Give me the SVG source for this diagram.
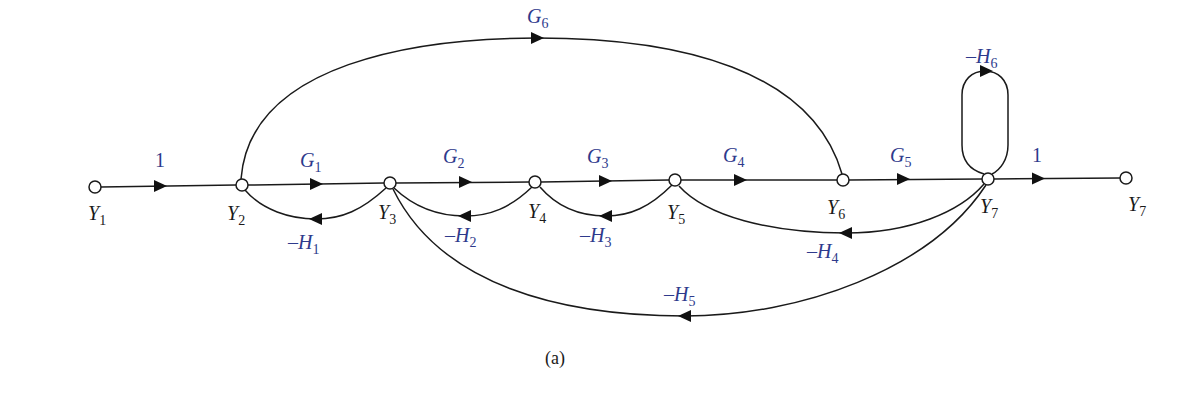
<svg xmlns="http://www.w3.org/2000/svg" xmlns:xlink="http://www.w3.org/1999/xlink" width="1195" height="400" viewBox="0 0 1195 400">
<style>
.e{fill:none;stroke:#1a1a1a;stroke-width:1.5}
.n{fill:#fff;stroke:#1a1a1a;stroke-width:1.5}
.a{fill:#111}
.g{font-family:"Liberation Serif",serif;font-style:italic;font-size:20px;fill:#2e3a8c}
.y{font-family:"Liberation Serif",serif;font-style:italic;font-size:20px;fill:#1a1a1a}
.s{font-style:normal;font-size:14px}
.c{font-family:"Liberation Serif",serif;font-size:18px;fill:#1a1a1a}
</style>
<defs>
<path id="ah" d="M-6,-6 L7,0 L-6,6 Z"/>
</defs>
<rect width="1195" height="400" fill="#fff"/>
<g id="connectors">
<path class="e" d="M101,187 L236,185"/>
<path class="e" d="M248,185 L384,183"/>
<path class="e" d="M396,183 L529,182"/>
<path class="e" d="M541,182 L669,180"/>
<path class="e" d="M681,180 L837,180"/>
<path class="e" d="M849,180 L982,179"/>
<path class="e" d="M994,179 L1120,178"/>
<path class="e" d="M241,179 C250,62 420,38 537,38 C680,38 812,70 842,174"/>
<path class="e" d="M386,188 C362,210 342,219 316,219 C290,219 262,210 245,190"/>
<path class="e" d="M532,187 C510,208 490,216 465,216 C440,216 415,208 394,188"/>
<path class="e" d="M672,185 C650,207 630,216 606,216 C580,216 558,208 540,187"/>
<path class="e" d="M984,184 C960,212 910,233 846,233 C770,233 706,216 679,186"/>
<path class="e" d="M986,185 C930,270 800,316 685,316 C560,316 440,285 393,189"/>
<path class="e" d="M984,174 C970,170 962,160 962,145 L962,95 C962,80 972,71 985,71 C998,71 1008,80 1008,95 L1008,145 C1008,160 1000,170 992,174"/>
<g class="a">
<use href="#ah" transform="translate(160,186)"/>
<use href="#ah" transform="translate(316,184)"/>
<use href="#ah" transform="translate(465,182)"/>
<use href="#ah" transform="translate(605,181)"/>
<use href="#ah" transform="translate(740,180)"/>
<use href="#ah" transform="translate(903,179)"/>
<use href="#ah" transform="translate(1038,178.5)"/>
<use href="#ah" transform="translate(537,38)"/>
<use href="#ah" transform="translate(316,219) rotate(180)"/>
<use href="#ah" transform="translate(465,216) rotate(180)"/>
<use href="#ah" transform="translate(606,216) rotate(180)"/>
<use href="#ah" transform="translate(846,233) rotate(180)"/>
<use href="#ah" transform="translate(685,316) rotate(180)"/>
<use href="#ah" transform="translate(986,71)"/>
</g>
</g>
<g id="Y1"><circle class="n" cx="95" cy="187" r="6"/><text class="y" x="88" y="220">Y<tspan class="s" dy="5">1</tspan></text></g>
<g id="Y2"><circle class="n" cx="242" cy="185" r="6"/><text class="y" x="227" y="220">Y<tspan class="s" dy="5">2</tspan></text></g>
<g id="Y3"><circle class="n" cx="390" cy="183" r="6"/><text class="y" x="378" y="219">Y<tspan class="s" dy="5">3</tspan></text></g>
<g id="Y4"><circle class="n" cx="535" cy="182" r="6"/><text class="y" x="528" y="218">Y<tspan class="s" dy="5">4</tspan></text></g>
<g id="Y5"><circle class="n" cx="675" cy="180" r="6"/><text class="y" x="667" y="219">Y<tspan class="s" dy="5">5</tspan></text></g>
<g id="Y6"><circle class="n" cx="843" cy="180" r="6"/><text class="y" x="827" y="214">Y<tspan class="s" dy="5">6</tspan></text></g>
<g id="Y7"><circle class="n" cx="988" cy="179" r="6"/><text class="y" x="980" y="213">Y<tspan class="s" dy="5">7</tspan></text></g>
<g id="Y7out"><circle class="n" cx="1126" cy="178" r="6"/><text class="y" x="1128" y="211">Y<tspan class="s" dy="5">7</tspan></text></g>
<g id="labels">
<text class="g" x="155" y="167" style="font-style:normal">1</text>
<text class="g" x="300" y="167">G<tspan class="s" dy="5">1</tspan></text>
<text class="g" x="443" y="163">G<tspan class="s" dy="5">2</tspan></text>
<text class="g" x="587" y="163">G<tspan class="s" dy="5">3</tspan></text>
<text class="g" x="723" y="162">G<tspan class="s" dy="5">4</tspan></text>
<text class="g" x="890" y="162">G<tspan class="s" dy="5">5</tspan></text>
<text class="g" x="1032" y="162" style="font-style:normal">1</text>
<text class="g" x="527" y="23">G<tspan class="s" dy="5">6</tspan></text>
<text class="g" x="288" y="249">–H<tspan class="s" dy="5">1</tspan></text>
<text class="g" x="445" y="242">–H<tspan class="s" dy="5">2</tspan></text>
<text class="g" x="580" y="242">–H<tspan class="s" dy="5">3</tspan></text>
<text class="g" x="807" y="258">–H<tspan class="s" dy="5">4</tspan></text>
<text class="g" x="664" y="301">–H<tspan class="s" dy="5">5</tspan></text>
<text class="g" x="966" y="63">–H<tspan class="s" dy="5">6</tspan></text>
<text class="c" x="555" y="364" text-anchor="middle">(a)</text>
</g>
</svg>
